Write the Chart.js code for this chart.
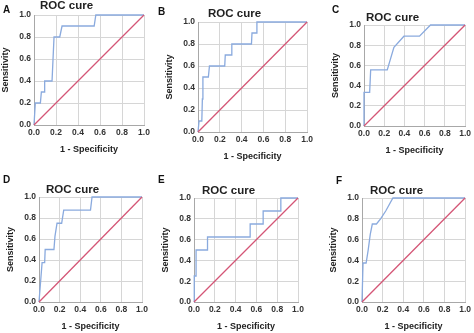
<!DOCTYPE html>
<html>
<head>
    <title>ROC cure</title>
    <script src="https://cdn.jsdelivr.net/npm/chart.js"></script>
    <style>
        html, body { margin: 0; padding: 0; background: #fff; }
        #wrap { position: relative; width: 474px; height: 333px; overflow: hidden; font-family: "Liberation Sans", Arial, sans-serif; }
        #wrap canvas { position: absolute; }
        .letter { position: absolute; font-size: 10px; font-weight: bold; line-height: 1; color: #111; }
        .ptitle { position: absolute; font-size: 11.5px; font-weight: bold; line-height: 1; color: #222; white-space: nowrap; }
    </style>
</head>
<body>
<div id="wrap"></div>

<script>
    // 각 패널 ROC 좌표 (1 - Specificity, Sensitivity)
    const fprA = [0, 0.012, 0.058, 0.067, 0.091, 0.097, 0.164, 0.182, 0.234, 0.255, 0.547, 0.562, 1];
    const tprA = [0, 0.2, 0.2, 0.3, 0.3, 0.4, 0.4, 0.8, 0.8, 0.9, 0.9, 1, 1];

    const fprB = [0, 0.01, 0.035, 0.04, 0.045, 0.095, 0.105, 0.245, 0.25, 0.305, 0.31, 0.49, 0.495, 0.535, 0.54, 1];
    const tprB = [0, 0.1, 0.1, 0.3, 0.5, 0.5, 0.6, 0.6, 0.7, 0.7, 0.8, 0.8, 0.9, 0.9, 1, 1];

    const fprC = [0, 0, 0.056, 0.066, 0.23, 0.296, 0.395, 0.549, 0.658, 1];
    const tprC = [0, 0.333, 0.333, 0.556, 0.556, 0.778, 0.889, 0.889, 1, 1];

    const fprD = [0, 0.02, 0.03, 0.055, 0.06, 0.145, 0.155, 0.175, 0.22, 0.24, 0.5, 0.515, 1];
    const tprD = [0, 0.25, 0.375, 0.375, 0.5, 0.5, 0.625, 0.75, 0.75, 0.875, 0.875, 1, 1];

    const fprE = [0, 0, 0.005, 0.02, 0.02, 0.13, 0.13, 0.54, 0.54, 0.665, 0.665, 0.835, 0.835, 1];
    const tprE = [0, 0.125, 0.25, 0.25, 0.5, 0.5, 0.625, 0.625, 0.75, 0.75, 0.875, 0.875, 1, 1];

    const fprF = [0, 0.01, 0.04, 0.06, 0.08, 0.1, 0.14, 0.18, 0.23, 0.3, 1];
    const tprF = [0, 0.375, 0.375, 0.5, 0.65, 0.75, 0.75, 0.8, 0.875, 1, 1];

    const panelLetters = ['A', 'B', 'C', 'D', 'E', 'F'];
    const chartTitle = 'ROC cure';
    const xTitle = '1 - Specificity';
    const yTitle = 'Sensitivity';
    const tickValues = [0, 0.2, 0.4, 0.6, 0.8, 1.0];
    const refLine = [0, 1];

    const series = [[fprA, tprA], [fprB, tprB], [fprC, tprC], [fprD, tprD], [fprE, tprE], [fprF, tprF]];

    // 배치: 캔버스 셀, 레이아웃 패딩, 글자 위치
    const layoutInfo = [
        { cell: [0, 0, 158, 166],     pad: { left: 0,  top: 15, right: 14, bottom: 11 }, letter: [3, 5],     title: [40, 0] },
        { cell: [158, 0, 158, 166],   pad: { left: 6,  top: 22, right: 8,  bottom: 4 },  letter: [158, 6.5], title: [208, 8] },
        { cell: [316, 0, 158, 166],   pad: { left: 14, top: 25, right: 8,  bottom: 10 }, letter: [332, 5],   title: [366, 11.5] },
        { cell: [0, 166, 158, 167],   pad: { left: 5,  top: 31, right: 16, bottom: 1 },  letter: [3, 175],   title: [46, 184] },
        { cell: [158, 166, 158, 167], pad: { left: 2,  top: 32, right: 18, bottom: 1 },  letter: [158, 175], title: [202, 185] },
        { cell: [316, 166, 158, 167], pad: { left: 12, top: 32, right: 6,  bottom: 1 },  letter: [336, 175.5], title: [370, 185] }
    ];

    const wrap = document.getElementById('wrap');

    series.forEach((s, i) => {
        const info = layoutInfo[i];
        const cv = document.createElement('canvas');
        cv.style.left = info.cell[0] + 'px';
        cv.style.top = info.cell[1] + 'px';
        cv.style.width = info.cell[2] + 'px';
        cv.style.height = info.cell[3] + 'px';
        cv.width = info.cell[2];
        cv.height = info.cell[3];
        wrap.appendChild(cv);

        const lt = document.createElement('div');
        lt.className = 'letter';
        lt.textContent = panelLetters[i];
        lt.style.left = info.letter[0] + 'px';
        lt.style.top = info.letter[1] + 'px';
        wrap.appendChild(lt);

        const tt = document.createElement('div');
        tt.className = 'ptitle';
        tt.textContent = chartTitle;
        tt.style.left = info.title[0] + 'px';
        tt.style.top = info.title[1] + 'px';
        wrap.appendChild(tt);

        const rocPts = s[0].map((x, k) => ({ x: x, y: s[1][k] }));
        const diagPts = refLine.map(v => ({ x: v, y: v }));

        const tickFont = { family: '"Liberation Sans", Arial, sans-serif', size: 8.5, weight: 'bold' };
        const titleFont = { family: '"Liberation Sans", Arial, sans-serif', size: 9, weight: 'bold' };

        new Chart(cv.getContext('2d'), {
            type: 'line',
            data: {
                datasets: [
                    {
                        data: diagPts,
                        borderColor: 'rgb(212, 86, 118)',
                        borderWidth: 1.3,
                        pointRadius: 0,
                        clip: false,
                        fill: false
                    },
                    {
                        data: rocPts,
                        borderColor: 'rgb(138, 170, 222)',
                        borderWidth: 1.3,
                        pointRadius: 0,
                        tension: 0,
                        clip: false,
                        fill: false
                    }
                ]
            },
            options: {
                responsive: false,
                animation: false,
                devicePixelRatio: 1,
                layout: { padding: info.pad },
                plugins: { legend: { display: false }, tooltip: { enabled: false } },
                scales: {
                    x: {
                        type: 'linear',
                        min: 0, max: 1,
                        afterBuildTicks: sc => { sc.ticks = tickValues.map(v => ({ value: v })); },
                        afterFit: sc => { sc.height = 30; },
                        ticks: { padding: 3, color: '#333', font: tickFont, maxRotation: 0, callback: v => v.toFixed(1) },
                        grid: { color: '#d6d6d6', lineWidth: 1, drawTicks: false },
                        border: { color: '#a8a8a8' },
                        title: { display: true, text: xTitle, color: '#222', font: titleFont, padding: { top: 0, bottom: 0 } }
                    },
                    y: {
                        type: 'linear',
                        min: 0, max: 1,
                        afterBuildTicks: sc => { sc.ticks = tickValues.map(v => ({ value: v })); },
                        afterFit: sc => { sc.width = 34; },
                        ticks: { padding: 3, color: '#333', font: tickFont, callback: v => v.toFixed(1) },
                        grid: { color: '#d6d6d6', lineWidth: 1, drawTicks: false },
                        border: { color: '#a8a8a8' },
                        title: { display: true, text: yTitle, color: '#222', font: titleFont, padding: { top: 0, bottom: 0 } }
                    }
                }
            }
        });
    });
</script>
</body>
</html>
